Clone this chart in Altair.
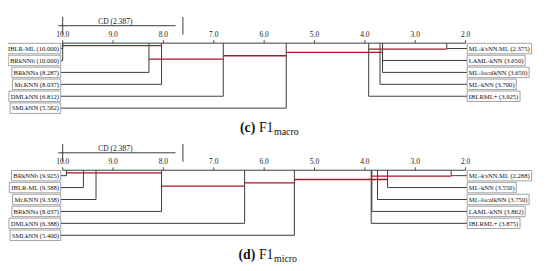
import altair as alt
import pandas as pd

# ---------------- data ----------------
CD = 2.387
tick_values = [10, 9, 8, 7, 6, 5, 4, 3, 2]
tick_labels = ["10.0", "9.0", "8.0", "7.0", "6.0", "5.0", "4.0", "3.0", "2.0"]

macro_left_names = ["IBLR-ML", "BRkNNb", "BRkNNa", "Mr.KNN", "DMLkNN", "SMLkNN"]
macro_left_ranks = [10.000, 10.000, 8.287, 8.037, 6.812, 5.562]
macro_right_names = ["ML-k'sNN.ML", "LAML-kNN", "ML-localkNN", "ML-kNN", "IBLRML+"]
macro_right_ranks = [2.375, 3.650, 3.650, 3.700, 3.925]
macro_clique_from = [10.000, 8.287, 6.812, 5.562, 3.925]
macro_clique_to = [8.037, 6.812, 5.562, 3.650, 2.375]
macro_clique_level = [0, 4, 3, 2, 1]

micro_left_names = ["BRkNNb", "IBLR-ML", "Mr.KNN", "BRkNNa", "DMLkNN", "SMLkNN"]
micro_left_ranks = [9.925, 9.588, 9.338, 8.037, 6.388, 5.400]
micro_right_names = ["ML-k'sNN.ML", "ML-kNN", "ML-localkNN", "LAML-kNN", "IBLRML+"]
micro_right_ranks = [2.288, 3.550, 3.750, 3.862, 3.875]
micro_clique_from = [9.925, 8.037, 6.388, 5.400, 3.875]
micro_clique_to = [8.037, 6.388, 5.400, 3.550, 2.288]
micro_clique_level = [0, 4, 3, 2, 1]

panel_letters = ["(c)", "(d)"]
panel_subs = ["macro", "micro"]

# ---------------- styling / layout ----------------
FONT = "Liberation Serif"
LINE = "#3a3a3a"
RED = "#a8182c"
BOX = "#8a8a8a"
LABEL_SIZE = 6.7
X0, X1 = 55.5, 464.5          # pixel positions of rank 10 and rank 2
PPU = (X1 - X0) / 8.0
AXIS_Y = [33.7, 162.7]
ROW_STEP = 12.1

# Times-like advance widths (per 1000 em) to size the label boxes
WIDTHS = {"A": 722, "B": 667, "C": 667, "D": 722, "I": 333, "K": 722, "L": 611,
          "M": 889, "N": 722, "R": 667, "S": 556, "a": 444, "b": 500, "c": 444,
          "k": 500, "l": 278, "m": 778, "o": 500, "r": 333, "s": 389, "i": 278,
          ".": 250, " ": 250, "(": 333, ")": 333, "-": 333, "'": 180, "+": 564}


def text_w(s, size):
    return sum(WIDTHS.get(ch, 500) for ch in s) * size / 1000.0


panels = [
    dict(left=(macro_left_names, macro_left_ranks), right=(macro_right_names, macro_right_ranks),
         cf=macro_clique_from, ct=macro_clique_to, cl=macro_clique_level),
    dict(left=(micro_left_names, micro_left_ranks), right=(micro_right_names, micro_right_ranks),
         cf=micro_clique_from, ct=micro_clique_to, cl=micro_clique_level),
]

rows, cliques, axes, ticks, cds, cd_ends, caps = [], [], [], [], [], [], []
for p, P in enumerate(panels):
    A = AXIS_Y[p]
    for side in ("L", "R"):
        names, ranks = P["left"] if side == "L" else P["right"]
        for i, (n, r) in enumerate(zip(names, ranks)):
            label = f"{n} ({r:.3f})"
            w = text_w(label, LABEL_SIZE) + 3.4
            ry = A + 5.5 + i * ROW_STEP
            if side == "L":
                edge = 10 + 2.0 / PPU
                far = edge + w / PPU
            else:
                edge = 2 - 1.5 / PPU
                far = edge - w / PPU
            rows.append(dict(side=side, label=label, rank=r, edge=edge, far=far,
                             y0=A, y=ry, ytop=ry - 5.3, ybot=ry + 5.3))
    for a, b, lv in zip(P["cf"], P["ct"], P["cl"]):
        cliques.append(dict(a=a, b=b, y=A + 2.6 + lv * 3.4))
    axes.append(dict(a=10, b=2, y=A))
    for t, tl in zip(tick_values, tick_labels):
        ticks.append(dict(x=t, label=tl, y=A - 3, y2=A, ly=A - 6.7))
    cds.append(dict(a=10, b=10 - CD, mid=10 - CD / 2 + 0.03, y=A - 17.7, ly=A - 19.8,
                    label=f"CD ({CD:.3f})"))
    for e in (10, 10 - CD):
        cd_ends.append(dict(x=e, y=A - 26.5, y2=A - 8.7))
    caps.append(dict(letter=panel_letters[p], sub=panel_subs[p], y=A + 90.3, ys=A + 93.3))

rows = pd.DataFrame(rows)
cliques = pd.DataFrame(cliques)
axes = pd.DataFrame(axes)
ticks = pd.DataFrame(ticks)
cds = pd.DataFrame(cds)
cd_ends = pd.DataFrame(cd_ends)
caps = pd.DataFrame(caps)

xs = alt.Scale(domain=[2, 10], range=[X1, X0], nice=False, zero=False)


def X(f):
    return alt.X(f"{f}:Q", scale=xs, axis=None)


def Y(f):
    return alt.Y(f"{f}:Q", scale=None, axis=None)


axis_line = alt.Chart(axes).mark_rule(color=LINE, strokeWidth=1).encode(
    x=X("a"), x2="b", y=Y("y"))
tick_marks = alt.Chart(ticks).mark_rule(color=LINE, strokeWidth=0.9).encode(
    x=X("x"), y=Y("y"), y2="y2")
tick_text = alt.Chart(ticks).mark_text(font=FONT, fontSize=7.6, color="#222",
                                       baseline="alphabetic", align="center").encode(
    x=X("x"), y=Y("ly"), text="label:N")

cd_bar = alt.Chart(cds).mark_rule(color=LINE, strokeWidth=1, xOffset=-4.5, x2Offset=-7.5).encode(
    x=X("a"), x2="b", y=Y("y"))
cd_end = alt.Chart(cd_ends).mark_rule(color=LINE, strokeWidth=1).encode(
    x=X("x"), y=Y("y"), y2="y2")
cd_text = alt.Chart(cds).mark_text(font=FONT, fontSize=7.6, color="#222",
                                   baseline="alphabetic", align="center", dx=-6).encode(
    x=X("mid"), y=Y("ly"), text="label:N")

vert = alt.Chart(rows).mark_rule(color=LINE, strokeWidth=1).encode(
    x=X("rank"), y=Y("y0"), y2="y")
horiz = alt.Chart(rows).mark_rule(color=LINE, strokeWidth=1).encode(
    x=X("rank"), x2="edge", y=Y("y"))
red = alt.Chart(cliques).mark_rule(color=RED, strokeWidth=1.3).encode(
    x=X("a"), x2="b", y=Y("y"))

boxes = alt.Chart(rows).mark_rect(fill="white", stroke=BOX, strokeWidth=0.8).encode(
    x=X("edge"), x2="far", y=Y("ytop"), y2="ybot")
left_text = alt.Chart(rows).transform_filter(alt.datum.side == "L").mark_text(
    font=FONT, fontSize=LABEL_SIZE, color="#111", align="right", baseline="middle", dx=-1.7, dy=0.3
).encode(x=X("edge"), y=Y("y"), text="label:N")
right_text = alt.Chart(rows).transform_filter(alt.datum.side == "R").mark_text(
    font=FONT, fontSize=LABEL_SIZE, color="#111", align="left", baseline="middle", dx=1.7, dy=0.3
).encode(x=X("edge"), y=Y("y"), text="label:N")

cap_letter = alt.Chart(caps).mark_text(font=FONT, fontSize=14, fontWeight="bold", color="#111",
                                       align="right", baseline="alphabetic").encode(
    x=alt.value(251), y=Y("y"), text="letter:N")
cap_f1 = alt.Chart(caps).mark_text(font=FONT, fontSize=14, color="#111",
                                   align="right", baseline="alphabetic").encode(
    x=alt.value(269.5), y=Y("y"), text=alt.value("F1"))
cap_sub = alt.Chart(caps).mark_text(font=FONT, fontSize=10, color="#111",
                                    align="left", baseline="alphabetic").encode(
    x=alt.value(270), y=Y("ys"), text="sub:N")

chart = alt.layer(
    axis_line, tick_marks, tick_text, cd_bar, cd_end, cd_text,
    vert, horiz, red, boxes, left_text, right_text, cap_letter, cap_f1, cap_sub
).properties(
    width=542, height=263, padding=0,
    autosize=alt.AutoSizeParams(type="none")
).configure_view(stroke=None)

chart.save("out.html", embed_options={"renderer": "svg", "actions": False})
